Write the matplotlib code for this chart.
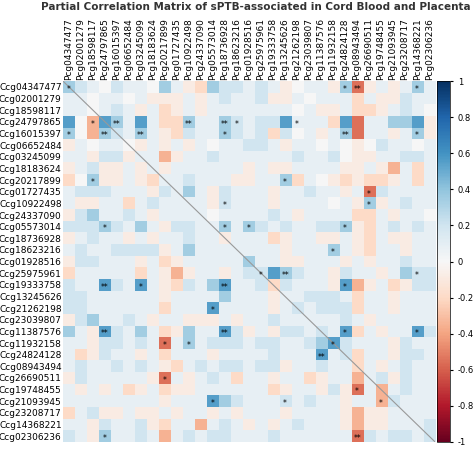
import numpy as np
import matplotlib.pyplot as plt

ids = ['04347477', '02001279', '18598117', '24797865', '16015397', '06652484', '03245099',
       '18183624', '20217899', '01727435', '10922498', '24337090', '05573014', '18736928',
       '18623216', '01928516', '25975961', '19333758', '13245626', '21262198', '23039807',
       '11387576', '11932158', '24824128', '08943494', '26690511', '19748455', '21093945',
       '23208717', '14368221', '02306236']
row_labels = ['Ccg' + s for s in ids]
col_labels = ['Pcg' + s for s in ids]

# coarse colour levels
levels = {'R': -0.55, 'r': -0.35, 'o': -0.2, 'p': -0.08, '.': 0.0,
          'q': 0.08, 'b': 0.2, 'c': 0.35, 'B': 0.55}
rows_txt = [
    "cbq.b qq.cq pocbb qbqp. qqpcR pqpqc q",
    "qq.qq .qppp qpqbq qbppq .qqqo qppbq q",
    "qq.qb qpqop qpqqq qqqq. qppqo opqbq .",
    "B.rBc qBqoo cqqcb qbbBq qqoBR qqccB p",
    "c.rcb qcqpo bqqcb qbob. qpqcR qqpqc p",
    "pq.qq .pqpq pq.qq bbqpq q.q.p .bqq. q",
    "qqpbb pqqrp qqbqq qqqqb qqb.p pqqbb q",
    "pqbpp qpqpq qqqqq pqppq qqqpp qprqo q",
    "o.cpp qpoqq bqqqp pqqco q.pop oopqo q",
    "qbbbq qqpbq cqpbq qqpqq bqqpq Rbqqq q",
    "qppqq oqbqq qqpbq qqpqq qq.qp cpqbq q",
    "pbcqq bqpqq qq.qq qqbqp qqqqo oqpqq .",
    "bbbcb qcqpb bqqcq cbqbq qbbcp oqbqb q",
    "pqbqq pqpqq bqqpq qqopq qppqp oqppq q",
    "qbqqb bbbpq cqqqq qqqpq qqcqp oqqpq q",
    "pbbqq qpqop qqqqq cqqpp qqqpq pqqbq q",
    "oqqqq qoqpr pqqpq bbBcb qqpbq qpqcb b",
    "bqqBb qBqpo bqcBq qbobq qqpBr pqopb b",
    "bbqqq qqqpq qqqcq qqpqq bbbqo qqpqq q",
    "bbqqq qqqoq qqBqq qqpqb qbbbo qqpqq q",
    "pbcqq bqpqq pppqp qqbqq qqqbq pqqqq q",
    "cqpBb qcqop cqqBb pqpbb qbqBo qpqqB b",
    "qqpbb qbqRq cqbbb qbbqq bcBbq qqpbq q",
    "qopbq qpqoq qqpqq qqbqq qBqbo qqpbb q",
    "qbqqb qbqpo qbqbb qbbpq qbqqo qpqbq q",
    "pbqqq qqpRq pqbqo qqpqq opqqr qbpbq q",
    "qpqpq opqop pqqqq qqopq qpbpR qrqbq q",
    "qqqqq qqqpq qqBcb qqqbq bqqpq qrbqq q",
    "oqbpp qppqp qqpqp qqqpq qqqpr ppqqq q",
    "qqpbq qbpoq qrqbq pqpqb qqqpr ppqqq b",
    "bqpcq qbqrq bqbbq qqbqq qqqqR bqbbq b",
]
# significance marks: (row, col, mark)
stars = [(0, 0, '*'), (0, 23, '*'), (0, 24, '**'), (0, 29, '*'),
         (3, 2, '*'), (3, 4, '**'), (3, 10, '**'), (3, 13, '**'), (3, 14, '*'), (3, 19, '*'),
         (4, 0, '*'), (4, 3, '**'), (4, 6, '**'), (4, 13, '*'), (4, 23, '**'), (4, 29, '*'),
         (8, 2, '*'), (8, 18, '*'), (9, 25, '*'), (10, 13, '*'), (10, 25, '*'),
         (12, 3, '*'), (12, 13, '*'), (12, 15, '*'), (12, 23, '*'), (14, 22, '*'),
         (16, 16, '*'), (16, 18, '**'), (16, 29, '*'),
         (17, 3, '**'), (17, 6, '*'), (17, 13, '**'), (17, 23, '*'), (19, 12, '*'),
         (21, 3, '**'), (21, 13, '**'), (21, 23, '*'), (21, 29, '*'),
         (22, 8, '*'), (22, 10, '*'), (22, 22, '*'), (23, 21, '**'), (25, 8, '*'),
         (26, 24, '*'), (27, 12, '*'), (27, 18, '*'), (27, 26, '*'), (30, 3, '*'), (30, 24, '**')]

mat = np.array([[levels[ch] for ch in r.replace(' ', '')] for r in rows_txt])
n = len(ids)

fig = plt.figure(figsize=(4.74, 4.51), dpi=100)
ax = fig.add_axes([0.133, 0.02, 0.785, 0.80])
im = ax.imshow(mat, cmap='RdBu', vmin=-1, vmax=1, aspect='auto')
ax.plot([-0.5, n - 0.5], [-0.5, n - 0.5], color='#999999', lw=0.8)
for r, c, m in stars:
    ax.text(c, r + 0.2, m, ha='center', va='center', fontsize=5.5, color='black')

ax.set_xticks(range(n))
ax.set_xticklabels(col_labels, rotation=90, fontsize=6.5)
ax.set_yticks(range(n))
ax.set_yticklabels(row_labels, fontsize=6.5)
ax.xaxis.tick_top()
ax.tick_params(length=0, pad=1)
for s in ax.spines.values():
    s.set_visible(False)

cax = fig.add_axes([0.922, 0.02, 0.028, 0.80])
cb = fig.colorbar(im, cax=cax, ticks=np.arange(-1, 1.01, 0.2))
cb.ax.set_yticklabels(['-1', '-0.8', '-0.6', '-0.4', '-0.2', '0', '0.2', '0.4', '0.6', '0.8', '1'])
cb.ax.tick_params(labelsize=6, length=2)
cb.outline.set_linewidth(0.5)

fig.suptitle('Partial Correlation Matrix of sPTB-associated in Cord Blood and Placenta',
             fontsize=7.5, fontweight='bold', y=0.995, x=0.54, color='#333333')
plt.savefig('out.png', dpi=100)
